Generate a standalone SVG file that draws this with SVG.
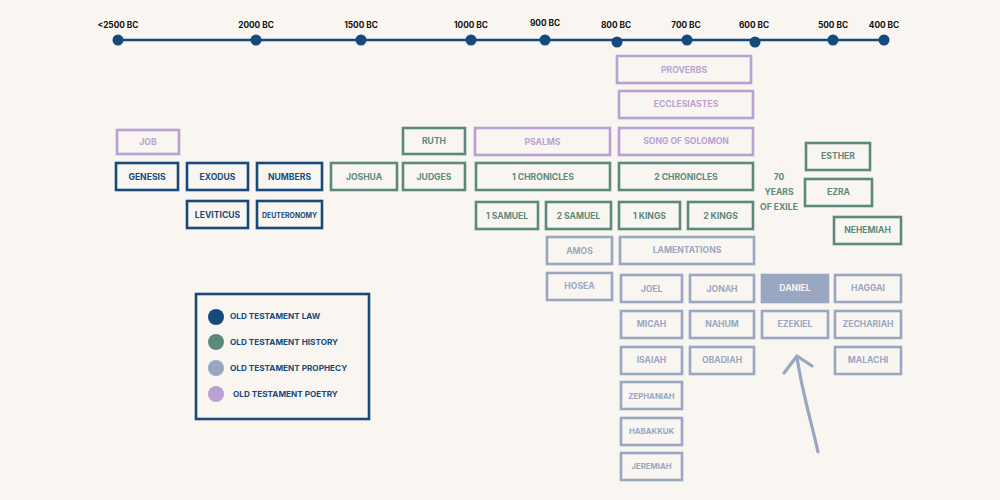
<svg xmlns="http://www.w3.org/2000/svg" width="1000" height="500" viewBox="0 0 1000 500">
<style>
text{font-family:Inter,"Noto Sans","DejaVu Sans",sans-serif;font-weight:700;text-anchor:middle;dominant-baseline:central;font-size:8.6px}
.tl{font-size:8.3px;fill:#111}
rect{fill:none;stroke-width:2.6}
.law rect{stroke:#174a7c}.law text{fill:#174a7c}
.his rect{stroke:#5b8a7c}.his text{fill:#5b8a7c}
.pro rect{stroke:#9aa7c3}.pro text{fill:#9aa7c3}
.poe rect{stroke:#b9a2d3}.poe text{fill:#b9a2d3}
.dot{fill:#174a7c}
.leg{text-anchor:start;fill:#174a7c;font-size:8.2px}
.sm{font-size:7.8px}
</style>
<rect x="0" y="0" width="1000" height="500" style="fill:#f9f5f0;stroke:none"/>
<g id="timeline">
<line x1="118" y1="40" x2="884" y2="40" stroke="#174a7c" stroke-width="2.5"/>
<circle class="dot" cx="118" cy="40" r="5.5"/><circle class="dot" cx="256" cy="40" r="5.5"/><circle class="dot" cx="361" cy="40" r="5.5"/><circle class="dot" cx="471" cy="40" r="5.5"/><circle class="dot" cx="545" cy="40" r="5.5"/><circle class="dot" cx="617" cy="42" r="5.5"/><circle class="dot" cx="687" cy="40" r="5.5"/><circle class="dot" cx="755" cy="42" r="5.5"/><circle class="dot" cx="833" cy="40" r="5.5"/><circle class="dot" cx="884" cy="40" r="5.5"/>
<text class="tl" x="118" y="25">&lt;2500 BC</text><text class="tl" x="256" y="25">2000 BC</text><text class="tl" x="361" y="25">1500 BC</text><text class="tl" x="471" y="25">1000 BC</text><text class="tl" x="545" y="23">900 BC</text><text class="tl" x="616" y="25">800 BC</text><text class="tl" x="686" y="25">700 BC</text><text class="tl" x="754" y="25">600 BC</text><text class="tl" x="833" y="25">500 BC</text><text class="tl" x="884" y="25">400 BC</text>
</g>
<g id="job" class="poe"><rect x="117" y="130" width="62" height="24"/><text x="148" y="142">JOB</text></g>
<g id="genesis" class="law"><rect x="116" y="163" width="62" height="27"/><text x="147" y="177">GENESIS</text></g>
<g id="exodus" class="law"><rect x="187" y="163" width="61" height="27"/><text x="217.5" y="177">EXODUS</text></g>
<g id="numbers" class="law"><rect x="257" y="163" width="65" height="27"/><text x="289.5" y="177">NUMBERS</text></g>
<g id="leviticus" class="law"><rect x="187" y="201" width="61" height="27"/><text x="217.5" y="215">LEVITICUS</text></g>
<g id="deuteronomy" class="law"><rect x="257" y="201" width="65" height="27"/><text x="289.5" y="215" style="font-size:6.9px">DEUTERONOMY</text></g>
<g id="joshua" class="his"><rect x="331" y="163" width="66" height="27"/><text x="364" y="177">JOSHUA</text></g>
<g id="ruth" class="his"><rect x="403" y="128" width="62" height="26"/><text x="434" y="141">RUTH</text></g>
<g id="judges" class="his"><rect x="403" y="163" width="62" height="27"/><text x="434" y="177">JUDGES</text></g>
<g id="psalms" class="poe"><rect x="475" y="128" width="135" height="27"/><text x="542.5" y="142">PSALMS</text></g>
<g id="chronicles1" class="his"><rect x="476" y="163" width="134" height="27"/><text x="543" y="177">1 CHRONICLES</text></g>
<g id="samuel1" class="his"><rect x="476" y="202" width="62" height="27"/><text x="507" y="216">1 SAMUEL</text></g>
<g id="samuel2" class="his"><rect x="546" y="202" width="65" height="27"/><text x="578.5" y="216">2 SAMUEL</text></g>
<g id="proverbs" class="poe"><rect x="617" y="56" width="134" height="27"/><text x="684" y="70">PROVERBS</text></g>
<g id="ecclesiastes" class="poe"><rect x="619" y="91" width="134" height="27"/><text x="686" y="104">ECCLESIASTES</text></g>
<g id="song" class="poe"><rect x="619" y="128" width="134" height="27"/><text x="686" y="141">SONG OF SOLOMON</text></g>
<g id="chronicles2" class="his"><rect x="619" y="163" width="134" height="27"/><text x="686" y="177">2 CHRONICLES</text></g>
<g id="kings1" class="his"><rect x="619" y="202" width="61" height="27"/><text x="649.5" y="216">1 KINGS</text></g>
<g id="kings2" class="his"><rect x="688" y="202" width="65" height="27"/><text x="720.5" y="216">2 KINGS</text></g>
<g id="amos" class="pro"><rect x="547" y="237" width="65" height="27"/><text x="579.5" y="251">AMOS</text></g>
<g id="lamentations" class="pro"><rect x="620" y="237" width="134" height="27"/><text x="687" y="250">LAMENTATIONS</text></g>
<g id="hosea" class="pro"><rect x="547" y="273" width="65" height="27"/><text x="579.5" y="286">HOSEA</text></g>
<g id="joel" class="pro"><rect x="621" y="275" width="61" height="27"/><text x="651.5" y="289">JOEL</text></g>
<g id="jonah" class="pro"><rect x="690" y="275" width="64" height="27"/><text x="722" y="289">JONAH</text></g>
<g id="daniel" class="pro"><rect x="762" y="275" width="66" height="27" style="fill:#9aa7c3"/><text x="795" y="288" style="fill:#f9f5f0">DANIEL</text></g>
<g id="haggai" class="pro"><rect x="835" y="275" width="66" height="27"/><text x="868" y="288">HAGGAI</text></g>
<g id="micah" class="pro"><rect x="621" y="311" width="61" height="27"/><text x="651.5" y="324">MICAH</text></g>
<g id="nahum" class="pro"><rect x="690" y="311" width="64" height="27"/><text x="722" y="324">NAHUM</text></g>
<g id="ezekiel" class="pro"><rect x="762" y="311" width="66" height="27"/><text x="795" y="324">EZEKIEL</text></g>
<g id="zechariah" class="pro"><rect x="835" y="311" width="66" height="27"/><text x="868" y="324">ZECHARIAH</text></g>
<g id="isaiah" class="pro"><rect x="621" y="347" width="61" height="27"/><text x="651.5" y="360">ISAIAH</text></g>
<g id="obadiah" class="pro"><rect x="690" y="347" width="64" height="27"/><text x="722" y="360">OBADIAH</text></g>
<g id="malachi" class="pro"><rect x="835" y="347" width="66" height="27"/><text x="868" y="360">MALACHI</text></g>
<g id="zephaniah" class="pro"><rect x="621" y="382" width="61" height="27"/><text class="sm" x="651.5" y="396">ZEPHANIAH</text></g>
<g id="habakkuk" class="pro"><rect x="621" y="418" width="61" height="27"/><text class="sm" x="651.5" y="431">HABAKKUK</text></g>
<g id="jeremiah" class="pro"><rect x="621" y="453" width="61" height="27"/><text class="sm" x="651.5" y="466">JEREMIAH</text></g>
<g id="esther" class="his"><rect x="806" y="143" width="64" height="27"/><text x="838" y="156">ESTHER</text></g>
<g id="ezra" class="his"><rect x="805" y="179" width="67" height="27"/><text x="838.5" y="192">EZRA</text></g>
<g id="nehemiah" class="his"><rect x="834" y="217" width="67" height="27"/><text x="867.5" y="230">NEHEMIAH</text></g>
<g id="exile" class="his"><text x="779" y="177">70</text><text x="779" y="192">YEARS</text><text x="779" y="207">OF EXILE</text></g>
<g id="legend">
<rect x="196" y="294" width="173" height="125" style="stroke:#174a7c"/>
<circle cx="216" cy="317" r="8" fill="#174a7c"/><circle cx="216" cy="342" r="8" fill="#5b8a7c"/><circle cx="216" cy="368" r="8" fill="#9aa7c3"/><circle cx="216" cy="394" r="8" fill="#b9a2d3"/>
<text class="leg" x="230" y="316">OLD TESTAMENT LAW</text><text class="leg" x="230" y="342">OLD TESTAMENT HISTORY</text><text class="leg" x="230" y="368">OLD TESTAMENT PROPHECY</text><text class="leg" x="233" y="394">OLD TESTAMENT POETRY</text>
</g>
<g id="connectors" fill="none" stroke="#9aa7c3" stroke-width="3.2" stroke-linecap="round" stroke-linejoin="round">
<path d="M818,452 C811,420 802,392 797,357"/>
<path d="M784,373 L797,356 L812,366"/>
</g>
</svg>
